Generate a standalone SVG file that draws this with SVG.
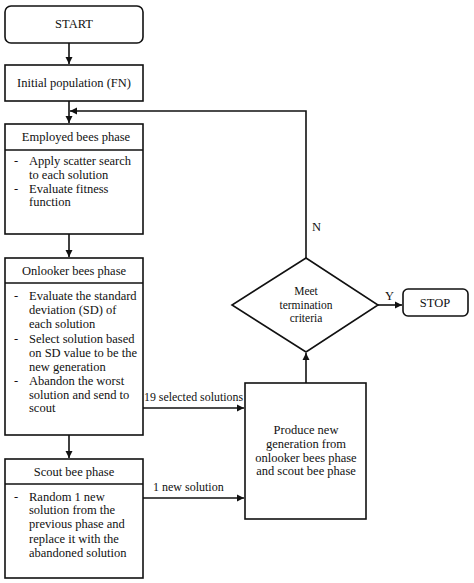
<svg xmlns="http://www.w3.org/2000/svg" width="474" height="583" viewBox="0 0 474 583">
<defs>
<marker id="ah" markerWidth="8" markerHeight="8" refX="7" refY="4" orient="auto" markerUnits="userSpaceOnUse">
<path d="M0,0.5 L7,4 L0,7.5 Z" fill="#111"/>
</marker>
</defs>
<style>
.box{fill:#fff;stroke:#111;stroke-width:1.6}
.ln{fill:none;stroke:#111;stroke-width:1.6}
text{font-family:'Liberation Serif','DejaVu Serif',serif;font-size:12.5px;fill:#111}
.c{text-anchor:middle}
.s{font-size:11.5px}
.lb{font-size:12px}
</style>
<rect width="474" height="583" fill="#fff"/>
<g id="connectors">
<line class="ln" x1="69" y1="43" x2="69" y2="64" marker-end="url(#ah)"/>
<line class="ln" x1="69" y1="101" x2="69" y2="123" marker-end="url(#ah)"/>
<polyline class="ln" points="306,258 306,111 70,111" marker-end="url(#ah)"/>
<line class="ln" x1="69" y1="234" x2="69" y2="257" marker-end="url(#ah)"/>
<line class="ln" x1="69" y1="435" x2="69" y2="458" marker-end="url(#ah)"/>
<line class="ln" x1="143" y1="408" x2="244" y2="408" marker-end="url(#ah)"/>
<line class="ln" x1="143" y1="498" x2="244" y2="498" marker-end="url(#ah)"/>
<line class="ln" x1="306" y1="383" x2="306" y2="353" marker-end="url(#ah)"/>
<line class="ln" x1="378" y1="305" x2="402" y2="305" marker-end="url(#ah)"/>
<text class="lb" font-family="Liberation Serif, serif" x="144" y="401" textLength="99" lengthAdjust="spacingAndGlyphs">19 selected solutions</text>
<text class="lb" font-family="Liberation Serif, serif" x="153" y="491">1 new solution</text>
<text font-family="Liberation Serif, serif" x="312" y="231">N</text>
<text font-family="Liberation Serif, serif" x="385" y="300">Y</text>
</g>
<g id="start" font-family="Liberation Serif, serif">
<rect class="box" x="5" y="6" width="138" height="37" rx="6"/>
<text class="c" x="74" y="28">START</text>
</g>
<g id="initial" font-family="Liberation Serif, serif">
<rect class="box" x="5" y="65" width="138" height="36"/>
<text class="c" x="74" y="87">Initial population (FN)</text>
</g>
<g id="employed" font-family="Liberation Serif, serif">
<rect class="box" x="5" y="124" width="138" height="110"/>
<line class="ln" x1="5" y1="150" x2="143" y2="150"/>
<text class="c" x="76" y="141">Employed bees phase</text>
<text x="14" y="165">-</text>
<text x="29" y="165">Apply scatter search</text>
<text x="29" y="179">to each solution</text>
<text x="14" y="193">-</text>
<text x="29" y="193">Evaluate fitness</text>
<text x="29" y="206">function</text>
</g>
<g id="onlooker" font-family="Liberation Serif, serif">
<rect class="box" x="5" y="258" width="138" height="177"/>
<line class="ln" x1="5" y1="283" x2="143" y2="283"/>
<text class="c" x="74" y="275">Onlooker bees phase</text>
<text x="14" y="300">-</text>
<text x="29" y="300">Evaluate the standard</text>
<text x="29" y="314">deviation (SD) of</text>
<text x="29" y="328">each solution</text>
<text x="14" y="343">-</text>
<text x="29" y="343">Select solution based</text>
<text x="29" y="357">on SD value to be the</text>
<text x="29" y="371">new generation</text>
<text x="14" y="385">-</text>
<text x="29" y="385">Abandon the worst</text>
<text x="29" y="399">solution and send to</text>
<text x="29" y="412">scout</text>
</g>
<g id="scout" font-family="Liberation Serif, serif">
<rect class="box" x="5" y="459" width="138" height="119"/>
<line class="ln" x1="5" y1="484" x2="143" y2="484"/>
<text class="c" x="74" y="476">Scout bee phase</text>
<text x="14" y="501">-</text>
<text x="29" y="501">Random 1 new</text>
<text x="29" y="514">solution from the</text>
<text x="29" y="528">previous phase and</text>
<text x="29" y="543">replace it with the</text>
<text x="29" y="557">abandoned solution</text>
</g>
<g id="produce" font-family="Liberation Serif, serif">
<rect class="box" x="245" y="383" width="121" height="136"/>
<text class="c" x="306" y="434">Produce new</text>
<text class="c" x="306" y="448">generation from</text>
<text class="c" x="306" y="462">onlooker bees phase</text>
<text class="c" x="306" y="475">and scout bee phase</text>
</g>
<g id="decision" font-family="Liberation Serif, serif">
<polygon class="box" points="306,258 378,305 306,352 232,305"/>
<text class="c s" x="306" y="295">Meet</text>
<text class="c s" x="306" y="309">termination</text>
<text class="c s" x="306" y="322">criteria</text>
</g>
<g id="stop" font-family="Liberation Serif, serif">
<rect class="box" x="403" y="289" width="65" height="27" rx="5"/>
<text class="c" x="435" y="307">STOP</text>
</g>
</svg>
